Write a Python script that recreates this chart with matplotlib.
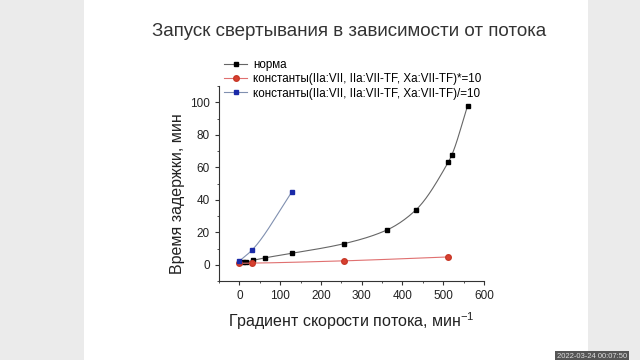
import numpy as np
import matplotlib
matplotlib.use("Agg")
import matplotlib.pyplot as plt
import matplotlib.lines as mlines
from matplotlib.patches import Rectangle

plt.rcParams['font.family'] = ['Liberation Sans', 'DejaVu Sans']

# data
norm_x = [9, 17, 33, 64, 128, 257, 361, 432, 512, 521, 560]
norm_y = [1.8, 1.8, 2.7, 4.3, 7.0, 13.0, 21.3, 33.5, 63.0, 67.5, 98.0]
mult_x = [0, 32, 256, 512]
mult_y = [0.9, 1.0, 2.4, 4.8]
div_x = [0, 32, 128]
div_y = [2.3, 9.3, 44.5]

labels = ["норма",
          "константы(IIa:VII, IIa:VII-TF, Xa:VII-TF)*=10",
          "константы(IIa:VII, IIa:VII-TF, Xa:VII-TF)/=10"]


#smooth connecting line (monotone cubic) between the measured points
def smooth(x, y, n=200):
    x = np.asarray(x, float)
    y = np.asarray(y, float)
    h = np.diff(x)
    d = np.diff(y) / h
    m = np.zeros_like(y)
    m[0] = d[0]
    m[-1] = d[-1]
    for i in range(1, len(x) - 1):
        if d[i-1] * d[i] > 0:
            w1 = 2*h[i] + h[i-1]
            w2 = h[i] + 2*h[i-1]
            m[i] = (w1 + w2) / (w1/d[i-1] + w2/d[i])
    xs = np.linspace(x[0], x[-1], n)
    k = np.clip(np.searchsorted(x, xs) - 1, 0, len(x) - 2)
    t = (xs - x[k]) / h[k]
    h00 = 2*t**3 - 3*t**2 + 1
    h10 = t**3 - 2*t**2 + t
    h01 = -2*t**3 + 3*t**2
    h11 = t**3 - t**2
    ys = h00*y[k] + h10*h[k]*m[k] + h01*y[k+1] + h11*h[k]*m[k+1]
    return xs, ys


fig = plt.figure(figsize=(6.4, 3.6), dpi=100)
fig.patch.set_facecolor((0, 0, 0, 0))

# slide background + dark side bars (behind everything)
fig.add_artist(Rectangle((0, 0), 84/640, 1, transform=fig.transFigure, zorder=-5,
                         facecolor='black', alpha=0.08, edgecolor='none'))
fig.add_artist(Rectangle((588/640, 0), 52/640, 1, transform=fig.transFigure, zorder=-5,
                         facecolor='black', alpha=0.08, edgecolor='none'))
fig.add_artist(Rectangle((84/640, 0), 504/640, 1, transform=fig.transFigure, zorder=-5,
                         facecolor='white', edgecolor='none'))

fig.text(349/640, 1 - 32/360, "Запуск свертывания в зависимости от потока",
         ha='center', va='center', fontsize=13.5, color='#333333')

ax = fig.add_axes([219/640, 1 - 281/360, 265/640, 195/360])
ax.set_facecolor('none')

sx, sy = smooth(norm_x, norm_y)
ax.plot(sx, sy, color='#666666', lw=0.8)
ax.plot(norm_x, norm_y, 's', color='black', ms=3.5)
sx, sy = smooth(mult_x, mult_y)
ax.plot(sx, sy, color='#e07070', lw=0.8)
ax.plot(mult_x, mult_y, 'o', color='#d84030', mec='#c83828', ms=4)
sx, sy = smooth(div_x, div_y)
ax.plot(sx, sy, color='#8090b0', lw=0.8)
ax.plot(div_x, div_y, 's', color='#1a2aa8', ms=3.5)

ax.set_xlim(-50, 600)
ax.set_ylim(-10, 110)
ax.set_xticks([0, 100, 200, 300, 400, 500, 600])
ax.set_xticks(np.arange(-50, 601, 50), minor=True)
ax.set_yticks([0, 20, 40, 60, 80, 100])
ax.set_yticks(np.arange(-10, 111, 10), minor=True)
ax.spines['top'].set_visible(False)
ax.spines['right'].set_visible(False)
for s in ('left', 'bottom'):
    ax.spines[s].set_color('#333333')
    ax.spines[s].set_linewidth(0.8)
ax.tick_params(direction='out', length=3, width=0.8, labelsize=8.5,
               colors='#333333', labelcolor='#222222')
ax.tick_params(which='minor', direction='out', length=1.5, width=0.6, colors='#333333')

ax.set_xlabel("Градиент скорости потока, мин$^{\\mathregular{-1}}$", fontsize=11.5, color='#222222')
ax.set_ylabel("Время задержки, мин", fontsize=11.5, color='#222222')
ax.xaxis.set_label_coords(0.5, -0.15)
ax.yaxis.set_label_coords(-0.13, 0.45)

lh = [mlines.Line2D([], [], color='#666666', lw=0.8, marker='s', mfc='black', mec='black', ms=3.5),
      mlines.Line2D([], [], color='#e07070', lw=0.8, marker='o', mfc='#d84030', mec='#c83828', ms=4),
      mlines.Line2D([], [], color='#8090b0', lw=0.8, marker='s', mfc='#1a2aa8', mec='#1a2aa8', ms=3.5)]
fig.legend(lh, labels, loc='upper left', bbox_to_anchor=(218/640, 1 - 53/360),
           frameon=False, fontsize=8.4, handlelength=2.0, handletextpad=0.5,
           labelspacing=0.2, borderpad=0)

fig.text(557/640, 0.0, "2022-03-24 00:07:50", fontsize=5.5, color='#dddddd',
         ha='left', va='bottom',
         bbox=dict(facecolor='#555555', edgecolor='none', pad=1.5))

fig.savefig('out.png', dpi=100)
